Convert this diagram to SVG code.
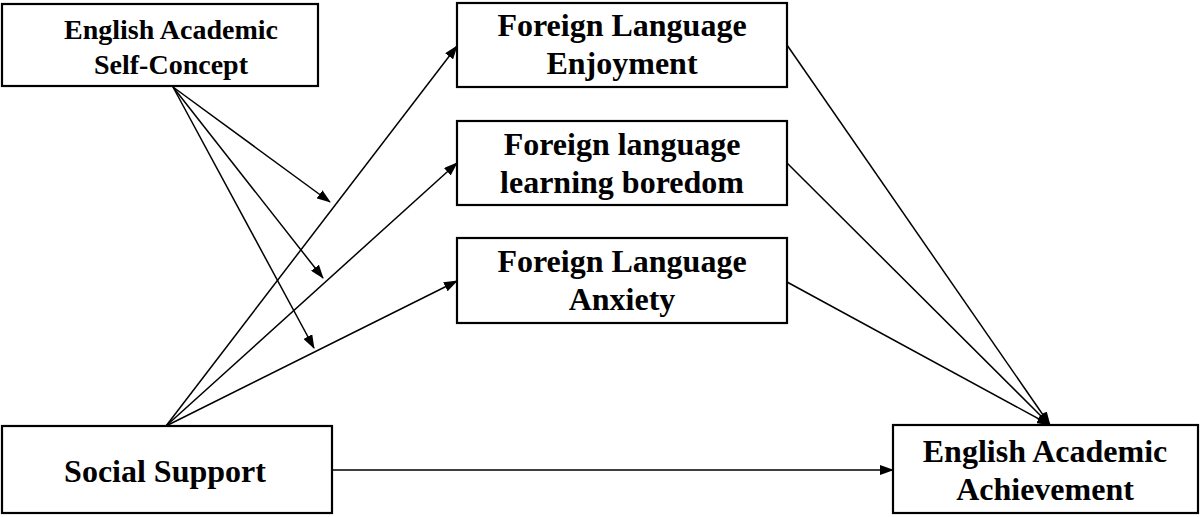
<svg xmlns="http://www.w3.org/2000/svg" width="1200" height="517" viewBox="0 0 1200 517">
<style>
.box{fill:#fff;stroke:#000;stroke-width:2.2}
.t{font-family:"Liberation Serif","Times New Roman",serif;font-weight:bold;fill:#000;text-anchor:middle}
.c{stroke:#000;stroke-width:1.5;fill:none}
</style>
<defs>
<marker id="ah" markerWidth="14" markerHeight="10" refX="13" refY="5" orient="auto" markerUnits="userSpaceOnUse">
<path d="M0,0 L14,5 L0,10 Z" fill="#000"/>
</marker>
</defs>
<rect width="1200" height="517" fill="#fff"/>
<g id="connectors">
<line class="c" x1="173" y1="87" x2="330" y2="202" marker-end="url(#ah)"/>
<line class="c" x1="173" y1="87" x2="323" y2="278" marker-end="url(#ah)"/>
<line class="c" x1="173" y1="87" x2="314" y2="348" marker-end="url(#ah)"/>
<line class="c" x1="166" y1="426" x2="457" y2="46" marker-end="url(#ah)"/>
<line class="c" x1="166" y1="426" x2="457" y2="163" marker-end="url(#ah)"/>
<line class="c" x1="166" y1="426" x2="457" y2="281" marker-end="url(#ah)"/>
<line class="c" x1="332" y1="470" x2="893" y2="470" marker-end="url(#ah)"/>
<line class="c" x1="787" y1="45" x2="1050" y2="425" marker-end="url(#ah)"/>
<line class="c" x1="787" y1="163" x2="1050" y2="425" marker-end="url(#ah)"/>
<line class="c" x1="787" y1="282" x2="1050" y2="425" marker-end="url(#ah)"/>
</g>
<g id="esc">
<rect class="box" x="2" y="4" width="316" height="82"/>
<text class="t" x="171" y="39" font-size="28">English Academic</text>
<text class="t" x="171" y="74" font-size="28">Self-Concept</text>
</g>
<g id="fle">
<rect class="box" x="457" y="3" width="330" height="84"/>
<text class="t" x="622" y="36" font-size="32">Foreign Language</text>
<text class="t" x="622" y="74" font-size="32">Enjoyment</text>
</g>
<g id="flb">
<rect class="box" x="457" y="121" width="330" height="84"/>
<text class="t" x="622" y="155" font-size="32">Foreign language</text>
<text class="t" x="622" y="193" font-size="32">learning boredom</text>
</g>
<g id="fla">
<rect class="box" x="457" y="238" width="330" height="85"/>
<text class="t" x="622" y="272" font-size="32">Foreign Language</text>
<text class="t" x="622" y="310" font-size="32">Anxiety</text>
</g>
<g id="ss">
<rect class="box" x="2" y="426" width="330" height="87"/>
<text class="t" x="165" y="482" font-size="32">Social Support</text>
</g>
<g id="eaa">
<rect class="box" x="893" y="425" width="305" height="88"/>
<text class="t" x="1045" y="462" font-size="32">English Academic</text>
<text class="t" x="1045" y="500" font-size="32">Achievement</text>
</g>
</svg>
